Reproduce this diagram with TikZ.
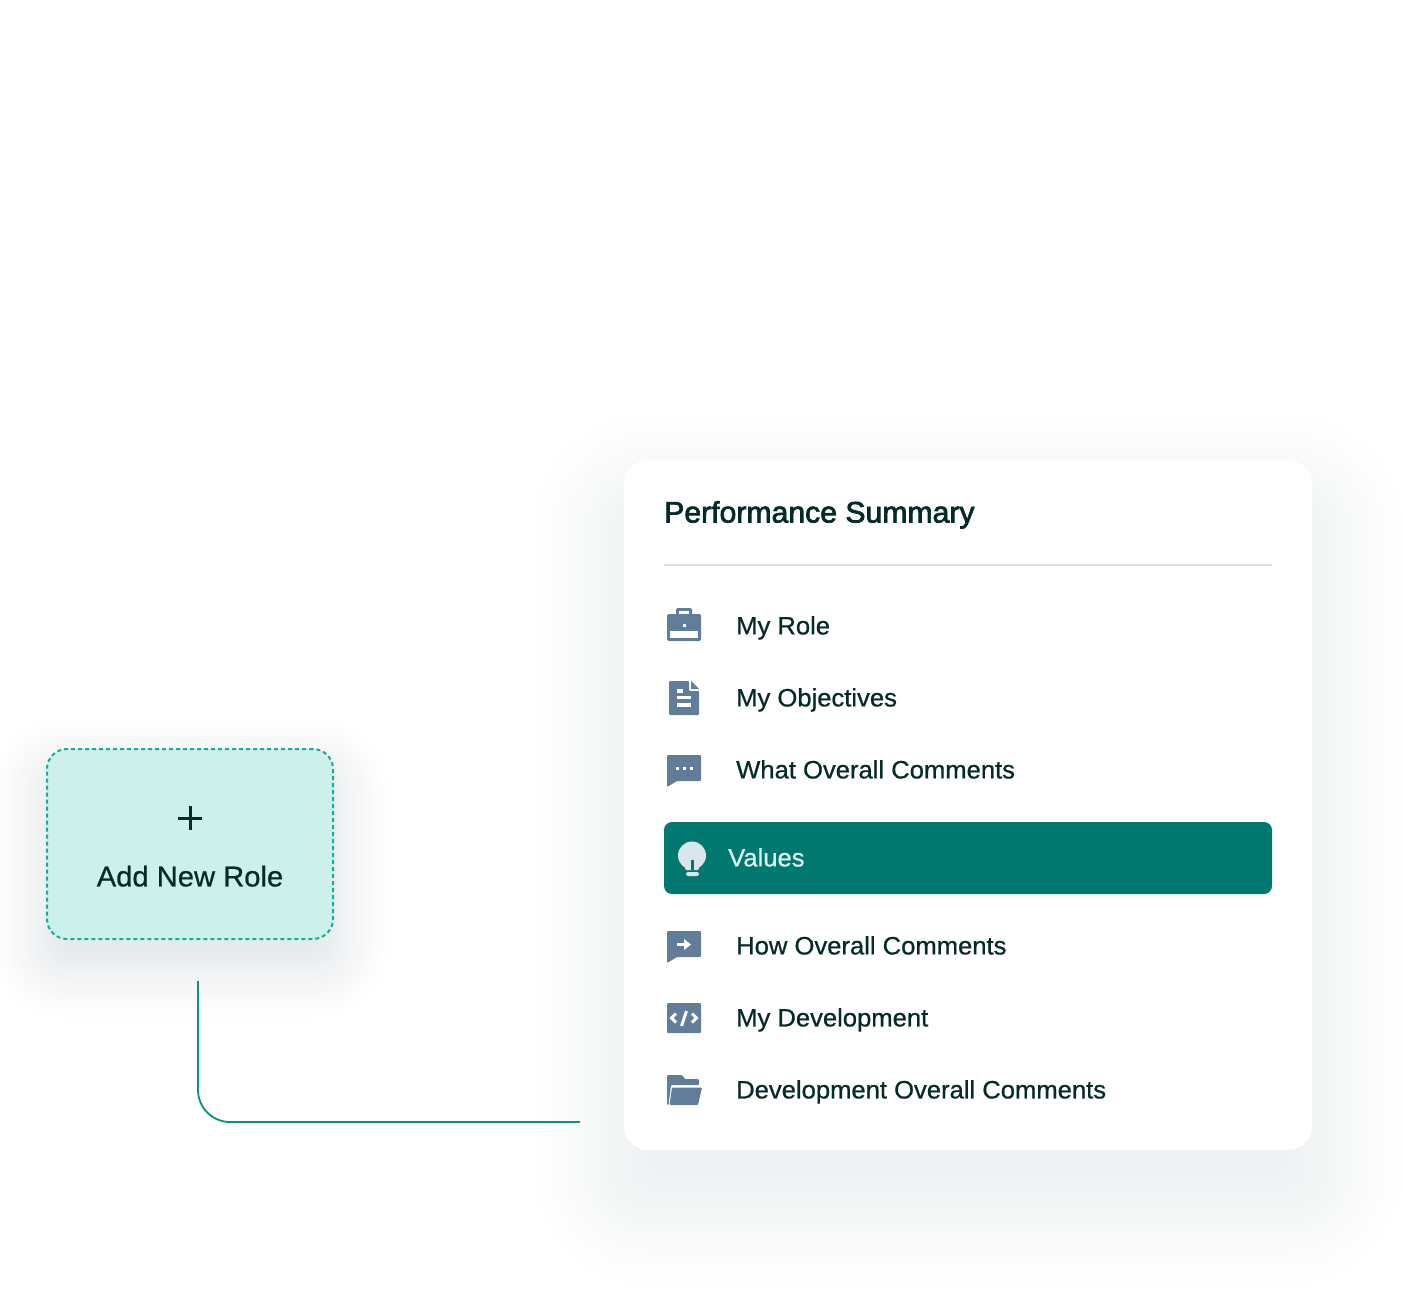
\documentclass[tikz,border=0pt]{standalone}
\usepackage{fontspec}
\setmainfont{Liberation Sans}
\newfontfamily\bodyfont[FakeBold=0.7,FakeStretch=1.02]{Liberation Sans}
\newfontfamily\titlefont[FakeBold=2.4,FakeStretch=1.02]{Liberation Sans}
\definecolor{ink}{HTML}{052B28}
\definecolor{slate}{HTML}{627D99}
\definecolor{tealbar}{HTML}{00786F}
\definecolor{linkteal}{HTML}{0E8F80}
\definecolor{dashteal}{HTML}{14AD9D}
\definecolor{mint}{HTML}{CCF1EB}
\definecolor{rulegray}{HTML}{DDE0E2}
\definecolor{bulbc}{HTML}{DBE6EC}
\definecolor{valtext}{HTML}{DDF3F0}
\definecolor{panelshade}{HTML}{EFF1F2}
\definecolor{cardshade}{HTML}{E7E9EB}
\tikzset{
  itemlabel/.style={anchor=base west,inner sep=0pt,text=ink,font=\bodyfont\fontsize{25.1}{30}\selectfont},
  icon/.style={fill=slate,draw=none},
  iconcut/.style={fill=white,draw=none},
}
\begin{document}
\begin{tikzpicture}[x=1pt,y=-1pt]
\useasboundingbox (0,0) rectangle (1402,1292);
% soft shadows, painted as opaque nested tints from the outside in
\foreach \d in {0,1,...,24}{
  \pgfmathsetmacro{\e}{100-\d*5}
  \pgfmathsetmacro{\rr}{max(24+\e,24)}
  \pgfmathsetmacro{\p}{100*((100-\e)/120)^1.15}
  \fill[panelshade!\p!white,rounded corners=\rr pt]
    (624-\e,505-\e) rectangle (1312+\e,1195+\e);
}
\foreach \d in {0,1,...,25}{
  \pgfmathsetmacro{\e}{62-\d*3}
  \pgfmathsetmacro{\rr}{max(20+\e,20)}
  \pgfmathsetmacro{\p}{100*((62-\e)/75)^1.3}
  \fill[cardshade!\p!white,rounded corners=\rr pt]
    (47-\e,773-\e) rectangle (333+\e,963+\e);
}
% panel
\node[draw=none,fill=white,rounded corners=24pt,minimum width=688pt,minimum height=690pt,inner sep=0pt,outer sep=0pt,anchor=north west] (panel) at (624,460) {};
\node[anchor=base west,inner sep=0pt,text=ink,font=\titlefont\fontsize{29.6}{34}\selectfont] (title) at (664,522.5) {Performance Summary};
\coordinate (ruleL) at (664,565);
\coordinate (ruleR) at (1272,565);
\draw[rulegray,line width=2pt] (ruleL) -- (ruleR);

% items
\node[itemlabel] (role) at (736,634.4) {My Role};
\node[itemlabel] (objectives) at (736,706.4) {My Objectives};
\node[itemlabel] (what) at (736,778.4) {What Overall Comments};
\node[fill=tealbar,rounded corners=8pt,minimum width=608pt,minimum height=72pt,inner sep=0pt,outer sep=0pt,anchor=north west] (valuesbar) at (664,822) {};
\node[itemlabel,text=valtext] (values) at (728,866.4) {Values};
\node[itemlabel] (how) at (736,954.4) {How Overall Comments};
\node[itemlabel] (development) at (736,1026.4) {My Development};
\node[itemlabel] (devcomments) at (736,1098.4) {Development Overall Comments};

% briefcase
\fill[icon,rounded corners=1.5pt] (667,614) rectangle (701,641);
\fill[icon,rounded corners=1.5pt] (676,608) rectangle (692,616);
\fill[iconcut] (679,611) rectangle (689,614);
\fill[iconcut] (670,631) rectangle (698,638);
\fill[iconcut] (682.5,623.5) rectangle (685.5,626.5);
% document
\fill[icon,rounded corners=1pt] (669,681) -- (689,681) -- (689,691) -- (699,691) -- (699,715) -- (669,715) -- cycle;
\fill[icon] (691,681) -- (699,689) -- (691,689) -- cycle;
\fill[iconcut] (677,689) rectangle (683,693);
\fill[iconcut] (677,696) rectangle (691,699);
\fill[iconcut] (677,703) rectangle (691,707);
% comment dots
\fill[icon,rounded corners=1pt] (667,755) -- (701,755) -- (701,781) -- (677,781) -- (667,787) -- cycle;
\fill[iconcut] (675.5,766.5) rectangle (678.5,769.5);
\fill[iconcut] (682.5,766.5) rectangle (685.5,769.5);
\fill[iconcut] (689.5,766.5) rectangle (692.5,769.5);
% bulb
\fill[bulbc] (692,855.5) circle (14);
\fill[bulbc] (683,864) -- (701,864) -- (698,870) -- (686,870) -- cycle;
\fill[bulbc,rounded corners=2pt] (686,872) rectangle (699,876);
\fill[tealbar] (690.5,860) rectangle (693.5,870);
% comment arrow
\fill[icon,rounded corners=1pt] (667,931) -- (701,931) -- (701,957) -- (677,957) -- (667,963) -- cycle;
\fill[iconcut] (677,943) rectangle (686,946);
\fill[iconcut] (684,939) -- (691,944.5) -- (684,950) -- cycle;
% code
\fill[icon,rounded corners=1pt] (667,1003) rectangle (701,1033);
\draw[white,line width=3pt] (676,1013.5) -- (671.5,1018) -- (676,1022.5);
\draw[white,line width=3pt] (692,1013.5) -- (696.5,1018) -- (692,1022.5);
\draw[white,line width=3pt] (686.5,1011) -- (681.5,1026);
% folder
\fill[icon,rounded corners=1pt] (667,1105) -- (667,1075) -- (682,1075) -- (685,1079) -- (699,1079) -- (699,1085) -- (671,1085) -- (668.5,1105) -- cycle;
\fill[icon,rounded corners=1pt] (672,1087.5) -- (702,1087.5) -- (698,1105) -- (669.5,1105) -- cycle;

% add new role card
\node[fill=mint,draw=dashteal,line width=2pt,dash pattern=on 4pt off 3pt,rounded corners=20pt,minimum width=286pt,minimum height=190pt,inner sep=0pt,outer sep=0pt,anchor=north west] (card) at (47,749) {};
\coordinate (plusL) at (178,818);
\coordinate (plusR) at (202,818);
\coordinate (plusT) at (190,806);
\coordinate (plusB) at (190,830);
\draw[ink,line width=3pt] (plusL) -- (plusR);
\draw[ink,line width=3pt] (plusT) -- (plusB);
\node[anchor=base,inner sep=0pt,text=ink,font=\bodyfont\fontsize{28.6}{34}\selectfont] (addrole) at (190,886.4) {Add New Role};

% connector
\coordinate (linkstart) at (198,981);
\coordinate (linkcorner) at (198,1122);
\coordinate (linkend) at (580,1122);
\draw[linkteal,line width=1.8pt,rounded corners=32pt] (linkstart) -- (linkcorner) -- (linkend);
\end{tikzpicture}
\end{document}
